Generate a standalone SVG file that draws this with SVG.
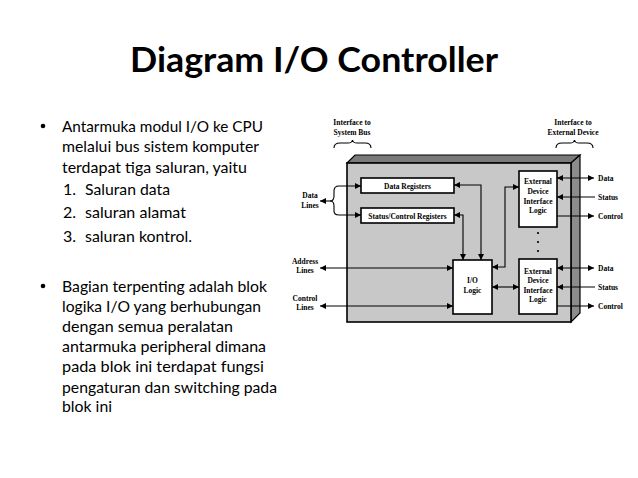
<svg xmlns="http://www.w3.org/2000/svg" width="638" height="478" viewBox="0 0 638 478">
<style>
.title{font-family:Lato,"Open Sans","Liberation Sans",sans-serif;font-weight:bold;font-size:34px;fill:#000}
.body{font-family:Lato,"Open Sans","Liberation Sans",sans-serif;font-size:16px;fill:#000}
.lbl{font-family:"Liberation Serif","DejaVu Serif",serif;font-weight:bold;font-size:7.5px;fill:#000}
.mid{text-anchor:middle}
.box{fill:#fff;stroke:#000;stroke-width:1.6}
.ln{fill:none;stroke:#000;stroke-width:1.1}
</style>
<defs>
<marker id="ah" viewBox="0 0 10 10" refX="10" refY="5" markerWidth="6.5" markerHeight="6" markerUnits="userSpaceOnUse" orient="auto-start-reverse">
<path d="M0,0 L10,5 L0,10 z" fill="#000"/>
</marker>
</defs>
<rect width="638" height="478" fill="#fff"/>
<text class="title" x="130" y="72" textLength="368" lengthAdjust="spacingAndGlyphs">Diagram I/O Controller</text>
<g id="text-left">
<circle cx="43" cy="126" r="2.3" fill="#000"/>
<text class="body" x="62" y="132" textLength="201" lengthAdjust="spacingAndGlyphs">Antarmuka modul I/O ke CPU</text>
<text class="body" x="62" y="152" textLength="197" lengthAdjust="spacingAndGlyphs">melalui bus sistem komputer</text>
<text class="body" x="62" y="173" textLength="185" lengthAdjust="spacingAndGlyphs">terdapat tiga saluran, yaitu</text>
<text class="body" x="63" y="195">1.</text>
<text class="body" x="85" y="195" textLength="85" lengthAdjust="spacingAndGlyphs">Saluran data</text>
<text class="body" x="63" y="218">2.</text>
<text class="body" x="85" y="218" textLength="101" lengthAdjust="spacingAndGlyphs">saluran alamat</text>
<text class="body" x="63" y="242">3.</text>
<text class="body" x="85" y="242" textLength="107" lengthAdjust="spacingAndGlyphs">saluran kontrol.</text>
<circle cx="43" cy="286" r="2.3" fill="#000"/>
<text class="body" x="62" y="292" textLength="205" lengthAdjust="spacingAndGlyphs">Bagian terpenting adalah blok</text>
<text class="body" x="62" y="312" textLength="199" lengthAdjust="spacingAndGlyphs">logika I/O yang berhubungan</text>
<text class="body" x="62" y="332" textLength="171" lengthAdjust="spacingAndGlyphs">dengan semua peralatan</text>
<text class="body" x="62" y="352" textLength="204" lengthAdjust="spacingAndGlyphs">antarmuka peripheral dimana</text>
<text class="body" x="62" y="372" textLength="202" lengthAdjust="spacingAndGlyphs">pada blok ini terdapat fungsi</text>
<text class="body" x="62" y="393" textLength="215" lengthAdjust="spacingAndGlyphs">pengaturan dan switching pada</text>
<text class="body" x="62" y="412" textLength="50" lengthAdjust="spacingAndGlyphs">blok ini</text>
</g>
<g id="module">
<polygon points="347,163 355,155 580,155 571,163" fill="#7a7a7a" stroke="#000" stroke-width="1.2"/>
<polygon points="571,163 580,155 580,313 571,322" fill="#8c8c8c" stroke="#000" stroke-width="1.2"/>
<rect x="347" y="163" width="224" height="159" fill="#c8c8c8" stroke="#000" stroke-width="1.6"/>
</g>
<g id="headers">
<text class="lbl mid" x="352" y="125">Interface to</text>
<text class="lbl mid" x="352" y="135">System Bus</text>
<path class="ln" d="M334,148 Q334,143 340,143 H348 Q352,143 352.5,140 Q353,143 357,143 H365 Q371,143 371,148"/>
<text class="lbl mid" x="573" y="125">Interface to</text>
<text class="lbl mid" x="573" y="135">External Device</text>
<path class="ln" d="M556,148 Q556,143 562,143 H570 Q574,143 574.5,140 Q575,143 579,143 H587 Q593,143 593,148"/>
</g>
<g id="data-registers">
<rect class="box" x="361" y="178" width="93" height="15"/>
<text class="lbl mid" x="407.5" y="188.5">Data Registers</text>
</g>
<g id="status-control-registers">
<rect class="box" x="361" y="208" width="93" height="15"/>
<text class="lbl mid" x="407.5" y="218.5">Status/Control Registers</text>
</g>
<g id="io-logic">
<rect class="box" x="453" y="260" width="39" height="54"/>
<text class="lbl mid" x="472.5" y="283">I/O</text>
<text class="lbl mid" x="472.5" y="293">Logic</text>
</g>
<g id="ext-upper">
<rect class="box" x="519" y="171" width="38" height="56"/>
<text class="lbl mid" x="538" y="184">External</text>
<text class="lbl mid" x="538" y="194">Device</text>
<text class="lbl mid" x="538" y="204">Interface</text>
<text class="lbl mid" x="538" y="213">Logic</text>
</g>
<g id="ext-lower">
<rect class="box" x="519" y="259" width="38" height="55"/>
<text class="lbl mid" x="538" y="274">External</text>
<text class="lbl mid" x="538" y="283">Device</text>
<text class="lbl mid" x="538" y="293">Interface</text>
<text class="lbl mid" x="538" y="302">Logic</text>
</g>
<g id="dots">
<circle cx="538" cy="233" r="1.1" fill="#000"/>
<circle cx="538" cy="242" r="1.1" fill="#000"/>
<circle cx="538" cy="251" r="1.1" fill="#000"/>
</g>
<g id="side-labels">
<text class="lbl mid" x="310" y="198">Data</text>
<text class="lbl mid" x="310" y="208">Lines</text>
<text class="lbl mid" x="305" y="264">Address</text>
<text class="lbl mid" x="305" y="273">Lines</text>
<text class="lbl mid" x="305" y="301">Control</text>
<text class="lbl mid" x="305" y="310">Lines</text>
<text class="lbl" x="598" y="181">Data</text>
<text class="lbl" x="598" y="200">Status</text>
<text class="lbl" x="598" y="219">Control</text>
<text class="lbl" x="598" y="271">Data</text>
<text class="lbl" x="598" y="290">Status</text>
<text class="lbl" x="598" y="309">Control</text>
</g>
<g id="connectors">
<path class="ln" d="M320,201 H330" marker-start="url(#ah)"/>
<path class="ln" d="M330,201 Q334,201 334,196 V191 Q334,186 339,186 H361" marker-end="url(#ah)"/>
<path class="ln" d="M330,201 Q334,201 334,206 V211 Q334,215 339,215 H361" marker-end="url(#ah)"/>
<path class="ln" d="M454,185 H481 V260" marker-start="url(#ah)" marker-end="url(#ah)"/>
<path class="ln" d="M454,215 H463 V260" marker-start="url(#ah)" marker-end="url(#ah)"/>
<path class="ln" d="M519,187 H505 V267 H492" marker-start="url(#ah)" marker-end="url(#ah)"/>
<path class="ln" d="M492,287 H519" marker-start="url(#ah)" marker-end="url(#ah)"/>
<path class="ln" d="M320,268 H453" marker-start="url(#ah)" marker-end="url(#ah)"/>
<path class="ln" d="M320,306 H453" marker-start="url(#ah)" marker-end="url(#ah)"/>
<path class="ln" d="M557,178 H594" marker-start="url(#ah)" marker-end="url(#ah)"/>
<path class="ln" d="M595,197 H557" marker-end="url(#ah)"/>
<path class="ln" d="M557,216 H594" marker-end="url(#ah)"/>
<path class="ln" d="M557,268 H594" marker-start="url(#ah)" marker-end="url(#ah)"/>
<path class="ln" d="M595,287 H557" marker-end="url(#ah)"/>
<path class="ln" d="M557,306 H594" marker-end="url(#ah)"/>
</g>
</svg>
